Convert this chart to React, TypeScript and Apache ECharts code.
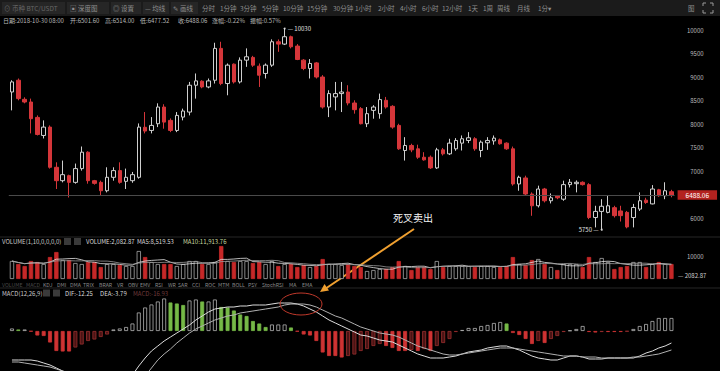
import React, { useEffect, useRef } from "react";
import * as echarts from "echarts";

// ---- Price candles ----
const opens = [
  8681, 8931, 8525, 8468, 8140, 7756, 7934, 7079, 6794, 6901,
  6758, 7051, 7400, 6794, 6758, 6580, 6866, 7008, 6780, 6794,
  6866, 7930, 7863, 8006, 8361, 8077, 7863, 8147, 8254, 8825,
  8910, 8788, 8931, 9609, 8861, 9273, 8895, 9359, 9417, 9231,
  9075, 9252, 9750, 9700, 9857, 9658, 9359, 9181, 9300, 9000,
  8361, 8576, 8647, 8681, 8447, 8327, 8006, 8290, 8220, 8504,
  8376, 7970, 7436, 7543, 7472, 7293, 7293, 7066, 7450, 7365,
  7472, 7593, 7650, 7686, 7436, 7600, 7640, 7663, 7593, 7472,
  6724, 6852, 6510, 6260, 6617, 6367, 6474, 6400, 6710, 6730,
  6760, 6710, 6010, 6140, 6120, 6220, 6150, 6120, 6010, 6190,
  6380, 6300, 6600, 6474, 6560,
];
const closes = [
  8895, 8540, 8468, 8113, 7777, 7934, 7079, 6794, 6922, 6758,
  7051, 7400, 6794, 6737, 6580, 6866, 7008, 6758, 6866, 6922,
  7934, 7850, 7970, 8361, 8040, 7863, 8183, 8276, 8825, 8917,
  8788, 8917, 9609, 8861, 9252, 8895, 9359, 9430, 9252, 9038,
  9252, 9750, 9700, 9857, 9643, 9373, 9181, 9288, 9000, 8361,
  8647, 8647, 8681, 8447, 8305, 8006, 8220, 8361, 8519, 8361,
  7934, 7472, 7543, 7450, 7293, 7237, 7066, 7450, 7365, 7593,
  7650, 7686, 7707, 7472, 7614, 7650, 7700, 7580, 7472, 6724,
  6866, 6510, 6260, 6617, 6367, 6430, 6430, 6710, 6760, 6760,
  6710, 6010, 6140, 6250, 6260, 6050, 6050, 5810, 6224, 6367,
  6330, 6617, 6474, 6580, 6488.06,
];
const lows = [
  8290, 8504, 8440, 7800, 7756, 7692, 7051, 6617, 6758, 6437,
  6730, 7008, 6730, 6710, 6474, 6545, 6794, 6730, 6617, 6750,
  6837, 7800, 7800, 7934, 7900, 7827, 7827, 8077, 8183, 8540,
  8760, 8760, 8861, 8825, 8611, 8861, 8861, 9216, 9216, 8788,
  8968, 9216, 9536, 9680, 9609, 9359, 9145, 8968, 8968, 8327,
  8147, 8290, 8254, 8397, 8220, 7991, 7934, 8113, 8113, 8327,
  7899, 7450, 7222, 7400, 7258, 7220, 7044, 7044, 7330, 7340,
  7430, 7436, 7593, 7430, 7293, 7450, 7560, 7560, 7450, 6688,
  6580, 6474, 6047, 6224, 6331, 6310, 6400, 6367, 6650, 6545,
  6690, 5976, 5800, 5750, 6100, 6010, 5925, 5780, 5800, 6150,
  6300, 6290, 6450, 6400, 6440,
];
const highs = [
  8931, 8968, 8568, 8540, 8183, 8077, 7970, 7185, 7222, 6922,
  7158, 7521, 7420, 6810, 6794, 7079, 7079, 7185, 7051, 6980,
  8012, 8254, 8147, 8440, 8420, 8119, 8254, 8327, 8895, 9075,
  8931, 8968, 9729, 9750, 9288, 9288, 9417, 9609, 9450, 9288,
  9288, 9800, 9800, 10030, 9880, 9700, 9380, 9380, 9320, 9040,
  8718, 8895, 8895, 8825, 8504, 8361, 8361, 8400, 8647, 8576,
  8400, 8005, 7720, 7580, 7560, 7400, 7330, 7493, 7490, 7686,
  7700, 7756, 7827, 7720, 7650, 7720, 7756, 7690, 7610, 7520,
  6900, 6900, 6545, 6688, 6640, 6523, 6490, 6794, 6830, 6800,
  6780, 6740, 6260, 6400, 6470, 6260, 6260, 6150, 6300, 6545,
  6430, 6700, 6620, 6760, 6600,
];

// ---- Volume ----
const volumes = [
  7830, 6525, 5655, 7830, 7395, 6525, 9570, 11745, 8265, 8265,
  6960, 6525, 7395, 7395, 5220, 6525, 6525, 6090, 5655, 5655,
  12180, 9570, 7395, 6525, 6525, 6525, 5655, 6525, 7830, 7830,
  6525, 6525, 7395, 14355, 7830, 7395, 7830, 7830, 6960, 7395,
  6525, 7830, 5655, 6525, 6525, 5220, 6090, 5220, 5655, 8700,
  6525, 6525, 6090, 6525, 5655, 5220, 3480, 3915, 4350, 4350,
  5220, 7830, 5655, 3915, 5220, 5220, 4350, 7830, 5220, 5655,
  5655, 5655, 5655, 5220, 5655, 5655, 5220, 5220, 5655, 9570,
  6525, 6090, 8265, 8700, 6525, 5220, 3915, 6525, 6525, 6525,
  5220, 9570, 7395, 9135, 7395, 4350, 5220, 5655, 7395, 7395,
  5220, 6525, 7395, 6525, 6525,
];

// ---- MACD ----
const macdHist = [
  5, 3, 3, -1, -9, -10, -23, -40, -41, -41,
  -33, -27, -20, -17, -12, -7, 3, 5, 8, 15,
  37, 47, 53, 59, 65, 57, 55, 52, 61, 63,
  59, 59, 63, 48, 47, 41, 33, 30, 20, 15,
  8, 13, 13, 13, 7, -1, -7, -9, -20, -43,
  -50, -50, -53, -50, -47, -40, -36, -30, -26, -30,
  -34, -40, -40, -38, -40, -36, -40, -30, -24, -16,
  -2, 2, 6, 6, 10, 12, 16, 18, 15, -4,
  -8, -16, -26, -20, -24, -16, -10, -2, 1, 4,
  10, -2, -3, -2, -2, -2, -2, -1, 4, 10,
  14, 20, 26, 26, 26,
];
const difValues = [
  -58, -58, -58, -58, -60, -64, -68, -74, -80, -86,
  -94, -102, -110, -116, -122, -124, -122, -114, -102, -88,
  -70, -54, -40, -30, -20, -12, -4, 4, 12, 22,
  30, 38, 44, 46, 48, 48, 50, 50, 52, 52,
  52, 54, 56, 56, 56, 54, 50, 44, 38, 30,
  22, 16, 10, 4, -2, -8, -10, -14, -18, -20,
  -22, -28, -34, -40, -46, -50, -54, -54, -54, -52,
  -50, -46, -42, -40, -38, -34, -32, -30, -30, -34,
  -38, -44, -50, -54, -56, -58, -58, -54, -50, -50,
  -52, -56, -56, -56, -54, -54, -54, -54, -54, -50,
  -44, -40, -34, -30, -24,
];
const deaValues = [
  -62, -62, -64, -66, -68, -70, -72, -76, -80, -84,
  -90, -96, -102, -108, -114, -118, -120, -120, -116, -110,
  -102, -90, -74, -58, -46, -36, -24, -14, -4, 4,
  10, 16, 22, 26, 30, 32, 36, 38, 40, 42,
  44, 46, 48, 52, 54, 54, 54, 52, 48, 42,
  36, 30, 26, 20, 14, 8, 4, 0, -4, -6,
  -8, -12, -18, -24, -30, -34, -38, -42, -46, -48,
  -48, -46, -44, -42, -40, -38, -36, -34, -34, -34,
  -36, -38, -40, -42, -44, -46, -48, -50, -50, -50,
  -52, -52, -52, -54, -54, -54, -54, -54, -52, -52,
  -50, -48, -46, -42, -38,
];

// ---- Tick labels and texts ----
const priceTickLabels = [6000, 7000, 7500, 8000, 8500, 9000, 9500, 10000];
const volumeTickLabels = [10000];
const lastPriceText = "6488.06";
const volumeMarkText = "2082.87";

const infoTexts = ["日期:2018-10-30 08:00", "开:6501.60", "高:6514.00", "低:6477.52", "收:6488.06", "涨幅:-0.22%", "振幅:0.57%"];
const toolLeftTexts = ["⊙ 币种 BTC/USDT", "▣ 深度图", "◎ 设置", "— 均线", "✎ 画线"];
const periodTexts = ["分时", "1分钟", "3分钟", "5分钟", "10分钟", "15分钟", "30分钟", "1小时", "2小时", "4小时", "6小时", "12小时", "1天", "1周", "周线", "月线", "1分▾"];
const tabTexts = ["VOLUME", "MACD", "KDJ", "DMI", "DMA", "TRIX", "BRAR", "VR", "OBV", "EMV", "RSI", "WR", "SAR", "CCI", "ROC", "MTM", "BOLL", "PSY", "StochRSI", "MA", "EMA"];
const volumeHeader = ["VOLUME(1,10,0,0,0,0)", "VOLUME:2,082.87", "MA5:8,519.53", "MA10:11,913.76"];
const macdHeader = ["MACD(12,26,9)", "DIF:-12.25", "DEA:-3.79", "MACD:-16.93"];
const annotationText = "死叉卖出";

const categories = opens.map((_, i) => {
  const d = new Date(Date.UTC(2018, 9, 30, 8) - (opens.length - 1 - i) * 4 * 3600 * 1000);
  return d.toISOString().slice(0, 16).replace("T", " ");
});

// ---- Layout (not data) ----
const FONT = '"Noto Sans CJK SC", "DejaVu Sans", sans-serif';
const CH = 420; // chart is taller than the window; MACD lines run off the bottom
const infoX = [3, 70, 105, 140, 178, 212, 250];
const toolLeftX = [4, 70, 113, 145, 173];
const toolBoxes = [[2, 63], [67, 42], [111, 30], [143, 26], [171, 27]];
const periodX = [202, 220, 240, 262, 283, 307, 333, 355, 378, 400, 422, 442, 468, 483, 497, 517, 538];
const tabX = [2, 26, 43, 57, 70, 83, 99, 117, 128, 140, 155, 168, 178, 192, 205, 218, 232, 248, 262, 289, 302];

function movingAvg(arr: number[], n: number) {
  return arr.map((_, i) => {
    const s = Math.max(0, i - n + 1);
    const sl = arr.slice(s, i + 1);
    return +(sl.reduce((a, b) => a + b, 0) / sl.length).toFixed(2);
  });
}

function txt(x: number, y: number, text: string, fill: string, fontSize: number, align = "left") {
  return {
    type: "text",
    x,
    y,
    silent: true,
    style: {
      text,
      fill,
      fontSize,
      fontFamily: FONT,
      align,
      verticalAlign: "middle",
      textAlign: align,
      textVerticalAlign: "middle",
    },
  };
}

export default function App() {
  const ref = useRef<HTMLDivElement>(null);
  useEffect(() => {
    document.body.style.margin = "0";
    document.body.style.background = "#000";
    document.body.style.overflow = "hidden";
    const chart = echarts.init(ref.current!, null, { renderer: "svg", width: 720, height: CH });

    const candleData = opens.map((o, i) => [o, closes[i], lows[i], highs[i]]);
    const volData = volumes.map((v, i) => {
      const up = closes[i] >= opens[i];
      return {
        value: v,
        itemStyle: up
          ? { color: "#000", borderColor: "#a8a8a8", borderWidth: 0.8 }
          : { color: "#c62828", borderColor: "#c62828", borderWidth: 0.8 },
      };
    });
    const histData = macdHist.map((v, i) => {
      const prev = i > 0 ? macdHist[i - 1] : 0;
      let st: any;
      if (v >= 0) {
        st = v >= prev
          ? { color: "#000", borderColor: "#b5b5b5", borderWidth: 0.8 }
          : { color: "#76b947", borderColor: "#76b947", borderWidth: 0.8 };
      } else {
        st = v <= prev
          ? { color: "#cf3333", borderColor: "#cf3333", borderWidth: 0.8 }
          : { color: "#4a1414", borderColor: "#9a2e2e", borderWidth: 0.8 };
      }
      return { value: v, itemStyle: st };
    });

    const graphics: any[] = [];
    // toolbar
    graphics.push({ type: "rect", shape: { x: 0, y: 0, width: 720, height: 16 }, style: { fill: "#1b1b1b" }, silent: true });
    toolBoxes.forEach(([x, w]) =>
      graphics.push({ type: "rect", shape: { x, y: 2, width: w, height: 12 }, style: { fill: "#262626" }, silent: true })
    );
    toolLeftTexts.forEach((t, i) => graphics.push(txt(toolLeftX[i], 8, t, i === 0 ? "#666" : "#8f8f8f", 6.5)));
    periodTexts.forEach((t, i) => graphics.push(txt(periodX[i], 8, t, "#8f8f8f", 6.5)));
    graphics.push(txt(688, 8, "图", "#8f8f8f", 6.5));
    const fx = 703, fy = 3, fs = 10, c = 3;
    [
      [[fx, fy + c], [fx, fy], [fx + c, fy]],
      [[fx + fs - c, fy], [fx + fs, fy], [fx + fs, fy + c]],
      [[fx, fy + fs - c], [fx, fy + fs], [fx + c, fy + fs]],
      [[fx + fs - c, fy + fs], [fx + fs, fy + fs], [fx + fs, fy + fs - c]],
    ].forEach((pts) =>
      graphics.push({ type: "polyline", shape: { points: pts }, style: { stroke: "#9a9a9a", lineWidth: 1, fill: "none" }, silent: true })
    );
    // info line
    infoTexts.forEach((t, i) => graphics.push(txt(infoX[i], 20.5, t, "#b8b8b8", 6)));
    // separators
    [237, 288].forEach((y) =>
      graphics.push({ type: "line", shape: { x1: 0, y1: y, x2: 720, y2: y }, style: { stroke: "#262626", lineWidth: 1 }, silent: true })
    );
    // volume header
    graphics.push(txt(2, 241.5, volumeHeader[0], "#c8c8c8", 6));
    graphics.push({ type: "rect", shape: { x: 64, y: 238, width: 7, height: 7 }, style: { fill: "#3a3a3a" }, silent: true });
    graphics.push({ type: "rect", shape: { x: 74, y: 238, width: 7, height: 7 }, style: { fill: "#3a3a3a" }, silent: true });
    graphics.push(txt(86, 241.5, volumeHeader[1], "#d8d8d8", 6));
    graphics.push(txt(137, 241.5, volumeHeader[2], "#d8d8d8", 6));
    graphics.push(txt(183, 241.5, volumeHeader[3], "#c9dba0", 6));
    graphics.push(txt(678, 275.5, "— " + volumeMarkText, "#d0d0d0", 6));
    // tabs
    tabTexts.forEach((t, i) => graphics.push(txt(tabX[i], 284, t, i < 2 ? "#4a4a4a" : "#8a8a8a", 5.2)));
    // macd header
    graphics.push(txt(2, 293, macdHeader[0], "#c8c8c8", 6));
    graphics.push({ type: "rect", shape: { x: 43, y: 289.5, width: 7, height: 7 }, style: { fill: "#3a3a3a" }, silent: true });
    graphics.push({ type: "rect", shape: { x: 53, y: 289.5, width: 7, height: 7 }, style: { fill: "#3a3a3a" }, silent: true });
    graphics.push(txt(65, 293, macdHeader[1], "#d8d8d8", 6));
    graphics.push(txt(100, 293, macdHeader[2], "#d8d8d8", 6));
    graphics.push(txt(133, 293, macdHeader[3], "#6e3b3b", 6));
    // annotation
    graphics.push(txt(393, 217, annotationText, "#f2f2f2", 10));
    graphics.push({ type: "line", shape: { x1: 414, y1: 229, x2: 325, y2: 289 }, style: { stroke: "#f0a030", lineWidth: 2 }, silent: true });
    graphics.push({ type: "polygon", shape: { points: [[320, 292], [329, 290.5], [324.5, 284]] }, style: { fill: "#f0a030" }, silent: true });
    graphics.push({ type: "ellipse", shape: { cx: 301, cy: 304, rx: 21, ry: 11 }, style: { stroke: "#c0392b", lineWidth: 1, fill: "none" }, silent: true, z: 100 });

    const gridBase = { left: 8.8, right: 45.4 };
    const xAxisBase = { type: "category", data: categories, show: false, boundaryGap: true };

    chart.setOption({
      animation: false,
      backgroundColor: "#000",
      textStyle: { fontFamily: FONT },
      grid: [
        { ...gridBase, top: 6.5, height: 235 },
        { ...gridBase, top: 244, height: 35 },
        { ...gridBase, top: 298, height: 122 },
      ],
      xAxis: [
        { ...xAxisBase, gridIndex: 0 },
        { ...xAxisBase, gridIndex: 1 },
        { ...xAxisBase, gridIndex: 2 },
      ],
      yAxis: [
        {
          gridIndex: 0, position: "right", min: 5500, max: 10500, interval: 500, scale: false,
          splitLine: { show: false }, axisLine: { show: false }, axisTick: { show: false },
          axisLabel: {
            color: "#bdbdbd", fontSize: 6, align: "right", margin: 29,
            formatter: (v: number) => (priceTickLabels.includes(v) ? String(v) : ""),
          },
        },
        {
          gridIndex: 1, position: "right", min: 0, max: 15225, interval: 5000,
          splitLine: { show: false }, axisLine: { show: false }, axisTick: { show: false },
          axisLabel: {
            color: "#bdbdbd", fontSize: 6, align: "right", margin: 29,
            formatter: (v: number) => (volumeTickLabels.includes(v) ? String(v) : ""),
          },
        },
        {
          gridIndex: 2, position: "right", min: -178, max: 66, show: false,
          splitLine: { show: false },
        },
      ],
      series: [
        {
          type: "candlestick",
          xAxisIndex: 0,
          yAxisIndex: 0,
          data: candleData,
          barWidth: "62%",
          itemStyle: {
            color: "#000",
            borderColor: "#cfcfcf",
            color0: "#d5363a",
            borderColor0: "#d5363a",
            borderWidth: 1,
          },
          markLine: {
            silent: true,
            symbol: ["none", "none"],
            lineStyle: { color: "#4a4a4a", width: 1, type: "solid" },
            label: {
              position: "end",
              formatter: lastPriceText,
              color: "#fff",
              backgroundColor: "#b3221f",
              fontSize: 6.5,
              padding: [1.5, 8, 1.5, 8],
              distance: 3,
            },
            data: [{ yAxis: closes[closes.length - 1] }],
          },
          markPoint: {
            silent: true,
            symbol: "circle",
            symbolSize: 2,
            itemStyle: { color: "#ddd" },
            data: [
              {
                type: "max", valueDim: "highest",
                label: { show: true, position: "right", distance: 2, color: "#e0e0e0", fontSize: 6, formatter: (p: any) => "— " + p.value },
              },
              {
                type: "min", valueDim: "lowest",
                label: { show: true, position: "left", distance: 2, color: "#e0e0e0", fontSize: 6, formatter: (p: any) => p.value + " —" },
              },
            ],
          },
        },
        {
          type: "bar", xAxisIndex: 1, yAxisIndex: 1, data: volData, barWidth: "68%",
        },
        {
          type: "line", xAxisIndex: 1, yAxisIndex: 1, data: movingAvg(volumes, 5), showSymbol: false,
          lineStyle: { color: "#e6e6e6", width: 0.8 }, z: 5,
        },
        {
          type: "line", xAxisIndex: 1, yAxisIndex: 1, data: movingAvg(volumes, 10), showSymbol: false,
          lineStyle: { color: "#9a9a9a", width: 0.8 }, z: 5,
        },
        {
          type: "bar", xAxisIndex: 2, yAxisIndex: 2, data: histData, barWidth: "62%",
        },
        {
          type: "line", xAxisIndex: 2, yAxisIndex: 2, data: difValues, showSymbol: false,
          lineStyle: { color: "#dcdcdc", width: 1 }, z: 5,
        },
        {
          type: "line", xAxisIndex: 2, yAxisIndex: 2, data: deaValues, showSymbol: false,
          lineStyle: { color: "#b0b0b0", width: 1 }, z: 5,
        },
      ],
      graphic: graphics,
    });
    return () => chart.dispose();
  }, []);
  return <div ref={ref} style={{ position: "fixed", left: 0, top: 0, width: 720, height: CH, background: "#000" }} />;
}
